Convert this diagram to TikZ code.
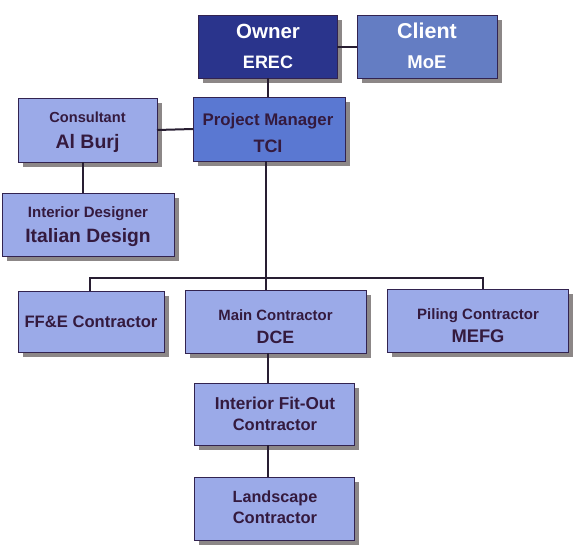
\documentclass[tikz,border=0pt]{standalone}
\usepackage{fontspec}
\setmainfont{Liberation Sans}
\usetikzlibrary{shadows}
\definecolor{ownerfill}{RGB}{42,52,140}
\definecolor{clientfill}{RGB}{100,125,195}
\definecolor{pmfill}{RGB}{90,120,210}
\definecolor{lightfill}{RGB}{155,170,232}
\definecolor{edge}{RGB}{50,35,80}
\definecolor{shadowgray}{RGB}{140,135,135}
\definecolor{txt}{RGB}{52,26,62}
\definecolor{linec}{RGB}{40,30,50}
\begin{document}
\begin{tikzpicture}[x=1pt,y=-1pt,
  box/.style={draw=edge, line width=0.8pt, inner sep=0pt, outer sep=0pt,
    drop shadow={shadow xshift=5pt, shadow yshift=-5pt, fill=shadowgray, opacity=1}},
  lightbox/.style={box, fill=lightfill},
  lbl/.style={anchor=base, inner sep=0pt, text=txt, font={\bfseries\fontsize{#1}{#1}\selectfont}},
  wlbl/.style={lbl=#1, text=white},
  conn/.style={draw=linec, line width=2pt}]
\useasboundingbox (0,0) rectangle (573,547);
% boxes
\node[box, fill=ownerfill, minimum width=139pt, minimum height=63pt] (owner) at (267.5,46.5) {};
\node[box, fill=clientfill, minimum width=140pt, minimum height=63pt] (client) at (427,46.5) {};
\node[lightbox, minimum width=139pt, minimum height=64pt] (consultant) at (87.5,130) {};
\node[box, fill=pmfill, minimum width=152pt, minimum height=64pt] (pm) at (269,129) {};
\node[lightbox, minimum width=172pt, minimum height=63pt] (designer) at (88,224.5) {};
\node[lightbox, minimum width=146pt, minimum height=61pt] (ffe) at (91,321.5) {};
\node[lightbox, minimum width=181pt, minimum height=63pt] (main) at (275.5,321.5) {};
\node[lightbox, minimum width=181pt, minimum height=63pt] (piling) at (477.5,320.5) {};
\node[lightbox, minimum width=160pt, minimum height=62pt] (fitout) at (274,414) {};
\node[lightbox, minimum width=160pt, minimum height=63pt] (landscape) at (274,508.5) {};
% connectors
\coordinate (busc) at (266,278);
\coordinate (busl) at (90,278);
\coordinate (busr) at (483,278);
\coordinate (cdx) at (83,0);
\coordinate (mainx) at (268,0);
\draw[conn] (owner.east) -- (client.west);
\draw[conn] (owner.south) -- (owner.south |- pm.north);
\draw[conn] (consultant.east) -- (pm.west);
\draw[conn] (consultant.south -| cdx) -- (designer.north -| cdx);
\draw[conn] (pm.south -| busc) -- (busc) -- (busc |- main.north);
\draw[conn] (ffe.north -| busl) -- (busl) -- (busr) -- (piling.north -| busr);
\draw[conn] (main.south -| mainx) -- (fitout.north -| mainx);
\draw[conn] (fitout.south -| mainx) -- (landscape.north -| mainx);
% labels
\node[wlbl=20.5] (owner-t1) at (268,38) {Owner};
\node[wlbl=18] (owner-t2) at (268,68) {EREC};
\node[wlbl=21.5] (client-t1) at (427,38) {Client};
\node[wlbl=18.5] (client-t2) at (427,68) {MoE};
\node[lbl=14.6] (consultant-t1) at (87.5,122) {Consultant};
\node[lbl=19.5] (consultant-t2) at (87.5,148) {Al Burj};
\node[lbl=16.8] (pm-t1) at (268,125) {Project Manager};
\node[lbl=18] (pm-t2) at (268,152) {TCI};
\node[lbl=15] (designer-t1) at (88,217) {Interior Designer};
\node[lbl=19.3] (designer-t2) at (88,242) {Italian Design};
\node[lbl=16.6] (ffe-t1) at (91,327) {FF\&E Contractor};
\node[lbl=14.9] (main-t1) at (275.5,320) {Main Contractor};
\node[lbl=17.8] (main-t2) at (275.5,343) {DCE};
\node[lbl=15] (piling-t1) at (478,319) {Piling Contractor};
\node[lbl=18.3] (piling-t2) at (478,342) {MEFG};
\node[lbl=17.2] (fitout-t1) at (275,409) {Interior Fit-Out};
\node[lbl=16.5] (fitout-t2) at (275,430) {Contractor};
\node[lbl=16.2] (landscape-t1) at (275,502) {Landscape};
\node[lbl=16.5] (landscape-t2) at (275,523) {Contractor};
\end{tikzpicture}
\end{document}
